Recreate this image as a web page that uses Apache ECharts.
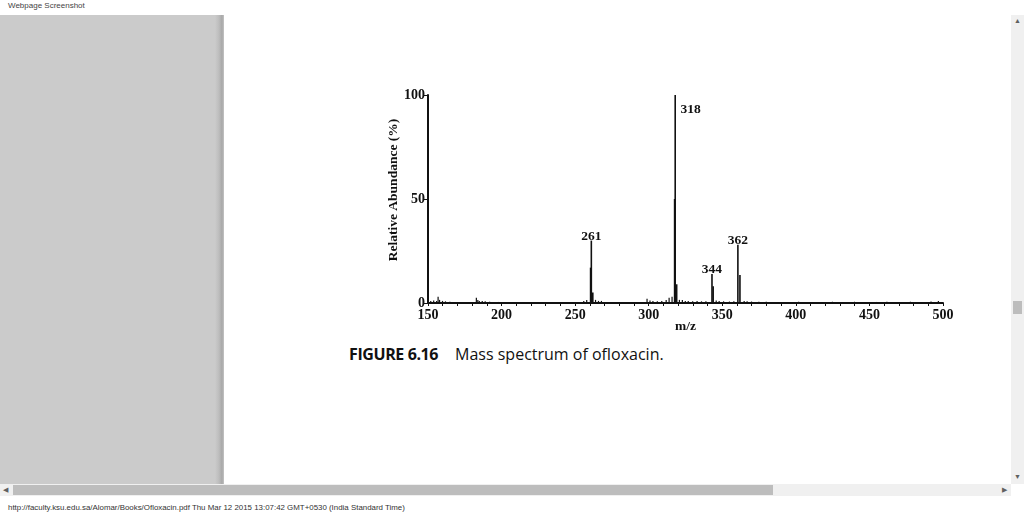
<!DOCTYPE html>
<html>
<head>
<meta charset="utf-8">
<script src="https://cdn.jsdelivr.net/npm/echarts@6/dist/echarts.min.js"></script>
<style>
  html, body { margin: 0; padding: 0; width: 1024px; height: 512px; overflow: hidden; background: #fff; }
  #top { position: absolute; left: 8px; top: 1px; font: 8px "Liberation Sans", Arial, sans-serif; color: #444; }
  #side { position: absolute; left: 0; top: 15px; width: 224px; height: 469px;
          background: linear-gradient(to right, #cbcbcb 0, #cbcbcb 215px, #bdbdbd 219px, #a8a8a8 222px, #c4c4c4 224px); }
  #vscroll { position: absolute; left: 1011px; top: 15px; width: 13px; height: 469px; background: #f0f0f0; }
  #vthumb { position: absolute; left: 2px; top: 286px; width: 9px; height: 13px; background: #bdbdbd; }
  #hscroll { position: absolute; left: 0; top: 484px; width: 1011px; height: 12px; background: #f0f0f0; }
  #hthumb { position: absolute; left: 13px; top: 1px; width: 760px; height: 10px; background: #bdbdbd; }
  .arr { position: absolute; font: 7px "Liberation Sans", Arial, sans-serif; color: #606060; }
  #foot { position: absolute; left: 8px; top: 503px; font: 7.9px "Liberation Sans", Arial, sans-serif; color: #333; white-space: nowrap; }
  #caption { position: absolute; left: 349px; top: 343px; font: 16px "Open Sans", sans-serif; color: #111; white-space: nowrap; }
  #caption b { font-weight: 700; letter-spacing: -0.4px; margin-right: 17px; }
  #chart { position: absolute; left: 0; top: 0; width: 1024px; height: 512px; }
</style>
</head>
<body>
<div id="top">Webpage Screenshot</div>
<div id="side"></div>
<div id="vscroll">
  <div class="arr" style="left:3px; top:2px;">&#9650;</div>
  <div id="vthumb"></div>
  <div class="arr" style="left:3px; top:458px;">&#9660;</div>
</div>
<div id="hscroll">
  <div class="arr" style="left:3px; top:2px;">&#9664;</div>
  <div id="hthumb"></div>
  <div class="arr" style="left:1002px; top:2px;">&#9654;</div>
</div>
<div id="foot">http://faculty.ksu.edu.sa/Alomar/Books/Ofloxacin.pdf Thu Mar 12 2015 13:07:42 GMT+0530 (India Standard Time)</div>
<div id="caption"><b>FIGURE 6.16</b>Mass spectrum of ofloxacin.</div>
<div id="chart"></div>
<script>
const chart = echarts.init(document.getElementById('chart'));

// main peaks (m/z, relative abundance %)
const peakMz = [260.5, 261, 262, 317.6, 318, 319, 343, 343.8, 360.6, 362];
const peakAbund = [17, 30, 5, 50, 100, 9, 14, 8, 28, 13.5];
// labelled peaks
const labelMz = [261, 318, 343, 360.6];
const labelText = ['261', '318', '344', '362'];

// small baseline peaks / noise
const noiseMz = [152, 154, 156, 157, 158, 160, 162, 165, 168, 172, 178, 183, 184, 185, 187, 189, 192,
  198, 205, 215, 225, 240, 252, 256, 258, 264, 266, 268, 272, 280, 290, 299, 301, 303, 306, 309,
  312, 314, 316, 321, 323, 325, 327, 330, 333, 336, 339, 346, 348, 351, 355, 358, 365, 367, 370,
  375, 380, 388, 395, 402, 410, 418, 425, 432, 440, 447, 455, 462, 470, 478, 485, 492, 497];
const noiseAbund = [1, 1.2, 1, 3, 1.5, 1, 0.8, 0.6, 0.5, 0.5, 0.5, 2.5, 1.5, 1, 1, 0.8, 0.6,
  0.5, 0.4, 0.4, 0.4, 0.4, 0.5, 1, 1.5, 1.5, 1, 1, 0.5, 0.4, 0.5, 2, 1.2, 1, 0.8, 1,
  1.5, 2.5, 3, 1.5, 1.5, 1, 1, 0.8, 1, 0.8, 0.8, 1.2, 1, 0.8, 0.7, 0.8, 1, 0.8, 0.7,
  0.6, 0.6, 0.5, 0.5, 0.6, 0.5, 0.5, 0.6, 0.5, 0.6, 0.5, 0.5, 0.6, 0.5, 0.6, 0.5, 0.7, 1];

const yTicks = [0, 50, 100];
const serifBold = { fontFamily: 'Liberation Serif', fontWeight: 'bold', color: '#111', fontSize: 14 };

const peakData = peakMz.map((mz, i) => {
  const k = labelMz.indexOf(mz);
  const item = { value: [mz, peakAbund[i]] };
  if (k >= 0) {
    const isBase = labelText[k] === '318';
    item.label = {
      show: true,
      formatter: labelText[k],
      position: isBase ? [6, 8] : 'top',
      align: isBase ? 'left' : 'center',
      distance: -3,
      ...serifBold,
      fontSize: 13.5
    };
  }
  return item;
});

chart.setOption({
  animation: false,
  grid: { left: 428, right: 81, top: 95, bottom: 209 },
  xAxis: {
    type: 'value', min: 150, max: 500, interval: 50,
    name: 'm/z', nameLocation: 'middle', nameGap: 17, nameMoveOverlap: false,
    nameTextStyle: { ...serifBold, fontSize: 13.5 },
    axisLine: { lineStyle: { color: '#111', width: 2 } },
    axisTick: { length: 3, lineStyle: { color: '#111', width: 1 } },
    minorTick: { show: true, splitNumber: 5, length: 3, lineStyle: { color: '#111', width: 1 } },
    axisLabel: { ...serifBold, margin: 5 },
    splitLine: { show: false }
  },
  yAxis: {
    type: 'value', min: 0, max: 100, interval: 50,
    name: 'Relative Abundance (%)', nameLocation: 'middle', nameGap: 27, nameMoveOverlap: false,
    nameTextStyle: { ...serifBold, fontSize: 13.5, padding: [0, 0, 0, 18] },
    axisLine: { show: true, lineStyle: { color: '#111', width: 2 } },
    axisTick: { show: true, length: 4, lineStyle: { color: '#111', width: 1 } },
    axisLabel: { ...serifBold, margin: 3, formatter: (v) => yTicks.includes(v) ? String(v) : '' },
    splitLine: { show: false }
  },
  series: [
    {
      type: 'bar', barWidth: 1.2, barGap: '-100%',
      itemStyle: { color: '#111' },
      data: noiseMz.map((mz, i) => [mz, noiseAbund[i]])
    },
    {
      type: 'bar', barWidth: 1.6, barGap: '-100%',
      itemStyle: { color: '#111' },
      data: peakData
    }
  ]
});
</script>
</body>
</html>
